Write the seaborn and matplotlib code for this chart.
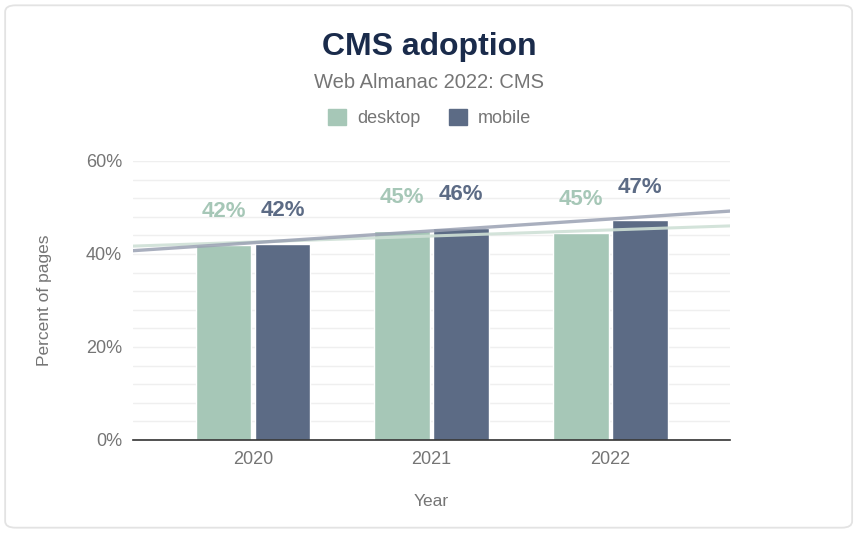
import pandas as pd
import numpy as np
import matplotlib.pyplot as plt
import matplotlib.patches as mpatches
from matplotlib.ticker import MultipleLocator, FuncFormatter
import seaborn as sns

sns.set_style("white")
plt.rcParams['font.family'] = ['Liberation Sans', 'DejaVu Sans']

# Data
years = ["2020", "2021", "2022"]
desktop = [42.0, 45.0, 44.6]
mobile = [42.1, 45.6, 47.2]
labels_desktop = ["42%", "45%", "45%"]
labels_mobile = ["42%", "46%", "47%"]

c_desktop = "#a6c7b7"
c_mobile = "#5c6b85"
gray = "#757575"

df = pd.DataFrame({
    "year": years * 2,
    "value": desktop + mobile,
    "client": ["desktop"] * 3 + ["mobile"] * 3,
})

fig = plt.figure(figsize=(8.59, 5.33), dpi=100)
ax = fig.add_axes([0.155, 0.1745, 0.695, 0.5235])

# card outline
card = mpatches.FancyBboxPatch((0.006, 0.01), 0.986, 0.98,
                               boxstyle="round,pad=0,rounding_size=0.012",
                               transform=fig.transFigure, fc="white",
                               ec="#e3e3e3", lw=1.3, zorder=-10)
fig.patches.append(card)

sns.barplot(data=df, x="year", y="value", hue="client",
            palette=[c_desktop, c_mobile], width=0.66, gap=0.06,
            saturation=1, legend=False, ax=ax, zorder=2)

ax.set_xlim(-0.67, 2.67)
ax.set_ylim(0, 60)

# trend lines
xnum = np.arange(len(years))
sns.regplot(x=xnum, y=desktop, scatter=False, ci=None, truncate=False, ax=ax,
            line_kws=dict(color="#cfe0d6", lw=2.2, alpha=0.9, zorder=4))
sns.regplot(x=xnum, y=mobile, scatter=False, ci=None, truncate=False, ax=ax,
            line_kws=dict(color="#9aa1b3", lw=2.4, alpha=0.85, zorder=4))
ax.set_xlim(-0.67, 2.67)

# value labels
for bars, labs, col in zip(ax.containers, [labels_desktop, labels_mobile],
                           [c_desktop, c_mobile]):
    for bar, lab in zip(bars, labs):
        ax.annotate(lab, (bar.get_x() + bar.get_width() / 2, bar.get_height()),
                    xytext=(0, 20), textcoords="offset points", ha="center",
                    va="baseline", fontsize=16, fontweight="bold", color=col)

ax.yaxis.set_major_locator(MultipleLocator(20))
ax.yaxis.set_minor_locator(MultipleLocator(4))
ax.yaxis.set_major_formatter(FuncFormatter(lambda v, p: f"{v:.0f}%"))
ax.grid(axis="y", which="both", color="#efefef", lw=1, zorder=0)
ax.set_axisbelow(True)
for s in ["top", "right", "left"]:
    ax.spines[s].set_visible(False)
ax.spines["bottom"].set_color("#333333")
ax.spines["bottom"].set_linewidth(1.2)
ax.tick_params(axis="both", which="both", length=0, labelsize=13,
               labelcolor=gray)
ax.tick_params(axis="y", pad=8)
ax.tick_params(axis="x", pad=8)
ax.set_xlabel("Year", fontsize=12.5, color=gray, labelpad=19)
ax.set_ylabel("Percent of pages", fontsize=12.5, color=gray, labelpad=24)

fig.text(0.5, 0.912, "CMS adoption", ha="center", va="center",
         fontsize=23, fontweight="heavy", color="#1a2b4b")
fig.text(0.5, 0.845, "Web Almanac 2022: CMS", ha="center", va="center",
         fontsize=14.5, color=gray)

handles = [mpatches.Patch(color=c_desktop, label="desktop"),
           mpatches.Patch(color=c_mobile, label="mobile")]
fig.legend(handles=handles, loc="center", bbox_to_anchor=(0.5, 0.778),
           ncol=2, frameon=False, fontsize=13, handlelength=1.0,
           handleheight=1.0, columnspacing=1.6, handletextpad=0.6,
           labelcolor=gray)

fig.savefig("out.png", dpi=100)
